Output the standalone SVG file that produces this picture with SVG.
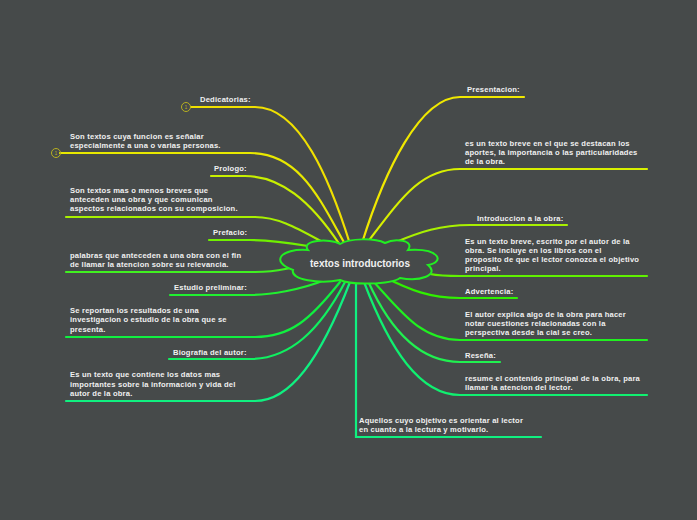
<svg xmlns="http://www.w3.org/2000/svg" width="697" height="520" viewBox="0 0 697 520">
<style>
.t{font-family:"Liberation Sans",Arial,sans-serif;font-size:7.6px;font-weight:bold;fill:#f0f0f0;letter-spacing:0.2px}
.c{fill:none;stroke-width:2.2;stroke-linecap:round}
.ic{fill:none;stroke:#b8b020;stroke-width:1}
.it{font-family:"Liberation Sans",Arial,sans-serif;font-size:5px;fill:#b8b020;text-anchor:middle}
</style>
<rect width="697" height="520" fill="#464a4a"/>
<g id="connectors">
<path class="c" stroke="#f0e000" d="M350,244 C330,180 300,107 255,107 L191,107"/>
<path class="c" stroke="#e8e800" d="M345,244 C320,200 300,153 250,153 L60,153"/>
<path class="c" stroke="#c8f000" d="M340,245 C310,200 280,176 245,176 L211,176"/>
<path class="c" stroke="#a8f000" d="M330,246 C300,230 280,217 255,217 L66,217"/>
<path class="c" stroke="#70f000" d="M308,246 C290,243 270,240 250,240 L209,240"/>
<path class="c" stroke="#40f020" d="M290,268 C280,270 275,272 255,272 L66,272"/>
<path class="c" stroke="#20f030" d="M325,280 C300,290 270,295 250,295 L170,295"/>
<path class="c" stroke="#10f040" d="M340,282 C310,320 290,337 255,337 L66,337"/>
<path class="c" stroke="#10f060" d="M345,282 C320,330 290,359 250,359 L169,359"/>
<path class="c" stroke="#10f080" d="M350,282 C320,360 290,401 255,401 L66,401"/>
<path class="c" stroke="#f0e800" d="M362,243 C385,170 420,97 460,97 L524,97"/>
<path class="c" stroke="#d8f000" d="M367,243 C400,200 420,169 460,169 L647,169"/>
<path class="c" stroke="#a8f000" d="M396,242 C420,232 440,225 470,225 L567,225"/>
<path class="c" stroke="#60f000" d="M430,274 C440,276 445,276 460,276 L647,276"/>
<path class="c" stroke="#30f000" d="M384,277 C410,290 430,298 460,298 L517,298"/>
<path class="c" stroke="#20f020" d="M372,280 C400,310 420,340 460,340 L647,340"/>
<path class="c" stroke="#20f050" d="M368,281 C390,330 420,362 460,362 L500,362"/>
<path class="c" stroke="#10f070" d="M364,282 C390,350 420,395 460,395 L647,395"/>
<path class="c" stroke="#10f080" d="M356,282 L356,437 L541,437"/>
</g>
<g id="center">
<path d="M308,250 C300,240 330,238 340,244 C350,238 375,238 385,243 C395,238 415,240 408,250 C440,248 445,262 428,265 C440,275 420,282 400,278 C390,285 350,285 340,280 C320,284 290,280 293,270 C270,262 280,248 308,250 Z" fill="#464a4a" stroke="#22ee22" stroke-width="2"/>
<text x="360" y="267" font-family="Liberation Sans,Arial,sans-serif" font-size="10px" font-weight="bold" fill="#f0f0f0" text-anchor="middle">textos introductorios</text>
</g>
<g id="n1"><circle class="ic" cx="186" cy="107" r="4.5"/><text class="it" x="186" y="109">1</text><text class="t" x="200" y="102">Dedicatorias:</text></g>
<g id="n2"><circle class="ic" cx="56" cy="153" r="4.5"/><text class="it" x="56" y="155">1</text><text class="t" x="70" y="139">Son textos cuya funcion es señalar</text><text class="t" x="70" y="148">especialmente a una o varias personas.</text></g>
<g id="n3"><text class="t" x="214" y="171">Prologo:</text></g>
<g id="n4"><text class="t" x="70" y="193">Son textos mas o menos breves que</text><text class="t" x="70" y="202">anteceden una obra y que comunican</text><text class="t" x="70" y="211">aspectos relacionados con su composicion.</text></g>
<g id="n5"><text class="t" x="213" y="235">Prefacio:</text></g>
<g id="n6"><text class="t" x="70" y="258">palabras que anteceden a una obra con el fin</text><text class="t" x="70" y="267">de llamar la atencion sobre su relevancia.</text></g>
<g id="n7"><text class="t" x="174" y="290">Estudio preliminar:</text></g>
<g id="n8"><text class="t" x="70" y="313">Se reportan los resultados de una</text><text class="t" x="70" y="322">investigacion o estudio de la obra que se</text><text class="t" x="70" y="332">presenta.</text></g>
<g id="n9"><text class="t" x="173" y="355">Biografia del autor:</text></g>
<g id="n10"><text class="t" x="70" y="377">Es un texto que contiene los datos mas</text><text class="t" x="70" y="387">importantes sobre la información y vida del</text><text class="t" x="70" y="396">autor de la obra.</text></g>
<g id="n11"><text class="t" x="467" y="92">Presentacion:</text></g>
<g id="n12"><text class="t" x="465" y="146">es un texto breve en el que se destacan los</text><text class="t" x="465" y="155">aportes, la importancia o las particularidades</text><text class="t" x="465" y="164">de la obra.</text></g>
<g id="n13"><text class="t" x="477" y="221">Introduccion a la obra:</text></g>
<g id="n14"><text class="t" x="465" y="244">Es un texto breve, escrito por el autor de la</text><text class="t" x="465" y="253">obra. Se incluye en los libros con el</text><text class="t" x="465" y="262">proposito de que el lector conozca el objetivo</text><text class="t" x="465" y="271">principal.</text></g>
<g id="n15"><text class="t" x="465" y="294">Advertencia:</text></g>
<g id="n16"><text class="t" x="465" y="317">El autor explica algo de la obra para hacer</text><text class="t" x="465" y="326">notar cuestiones relacionadas con la</text><text class="t" x="465" y="335">perspectiva desde la cial se creo.</text></g>
<g id="n17"><text class="t" x="465" y="358">Reseña:</text></g>
<g id="n18"><text class="t" x="465" y="381">resume el contenido principal de la obra, para</text><text class="t" x="465" y="390">llamar la atencion del lector.</text></g>
<g id="n19"><text class="t" x="359" y="423">Aquellos cuyo objetivo es orientar al lector</text><text class="t" x="359" y="432">en cuanto a la lectura y motivarlo.</text></g>
</svg>
